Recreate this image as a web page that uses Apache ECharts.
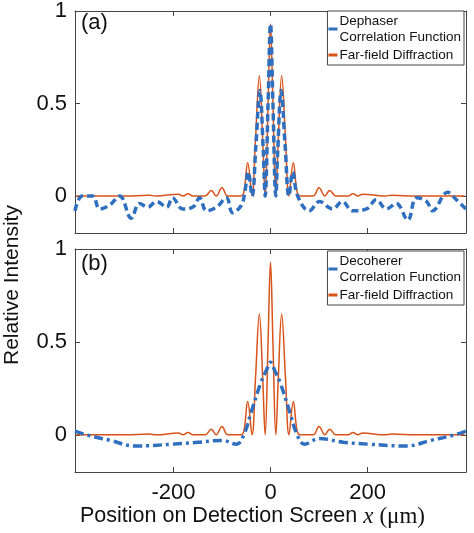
<!DOCTYPE html>
<html>
<head>
<meta charset="utf-8">
<script src="https://cdn.jsdelivr.net/npm/echarts@6/dist/echarts.min.js"></script>
<style>html,body{margin:0;padding:0;background:#fff}#chart{width:474px;height:533px}</style>
</head>
<body>
<div id="chart"></div>
<script>
// far-field diffraction (same in both panels)
const farField = [[-400,0],[-300,0],[-250,0.004],[-235,0],[-190,0.01],[-180,0],[-170,0.012],[-160,0],[-135,0],[-122,0.03],[-112,0],[-100,0.045],[-88,0],[-62,0],[-55,0.02],[-47,0.18],[-38,0],[-31,0.3],[-23,0.65],[-16,0.3],[-11,0],[-5,0.5],[0,0.93],[5,0.5],[11,0],[16,0.3],[23,0.65],[31,0.3],[38,0],[47,0.18],[55,0.02],[62,0],[88,0],[100,0.045],[112,0],[122,0.03],[135,0],[160,0],[170,0.012],[180,0],[190,0.01],[235,0],[250,0.004],[300,0],[400,0]];
// dephaser correlation function (panel a)
const dephaser = [[-403,-0.08],[-388,0],[-367,0],[-352,-0.07],[-332,-0.05],[-311,0],[-287,-0.12],[-270,-0.04],[-253,-0.06],[-235,-0.03],[-214,-0.06],[-202,-0.01],[-181,-0.07],[-160,-0.06],[-146,-0.01],[-132,-0.08],[-111,-0.06],[-91,-0.01],[-78,-0.09],[-60,-0.05],[-53,0.02],[-46,0.13],[-38,0],[-30,0.28],[-22,0.57],[-15,0.25],[-11,0],[-5,0.5],[0,0.93],[5,0.5],[11,0],[15,0.25],[22,0.57],[30,0.28],[38,0],[46,0.13],[56,0],[80,-0.08],[101,-0.03],[128,-0.07],[148,-0.03],[169,-0.08],[198,-0.07],[218,-0.02],[239,-0.07],[259,-0.04],[283,-0.13],[301,-0.01],[322,-0.03],[334,-0.08],[365,0.02],[383,-0.02],[403,-0.07]];
// decoherer correlation function (panel b)
const decoherer = [[-403,0.02],[-380,0],[-330,-0.03],[-280,-0.06],[-200,-0.05],[-150,-0.04],[-100,-0.03],[-70,-0.05],[-55,0],[-40,0.12],[-20,0.28],[-8,0.35],[0,0.39],[8,0.35],[20,0.28],[40,0.12],[55,0],[70,-0.05],[100,-0.02],[150,-0.04],[200,-0.05],[280,-0.06],[330,-0.03],[380,0],[403,0.02]];
const xTicks = [-200, 0, 200];
const yTicks = [0, 0.5, 1];

const chart = echarts.init(document.getElementById('chart'));
const blue = '#2f6fbf', orange = '#d95319', axisCol = '#444';
const font = 'Helvetica, Arial, "Liberation Sans", sans-serif';

function xAx(grid, pos, labels) {
  return {type: 'value', gridIndex: grid, position: pos, min: -403, max: 403,
    axisLine: {show: true, onZero: false, lineStyle: {color: axisCol}},
    axisTick: {inside: true, length: 5, customValues: xTicks, lineStyle: {color: axisCol}},
    axisLabel: {show: labels, customValues: xTicks, color: '#111', fontSize: 22, fontFamily: font, margin: 10},
    splitLine: {show: false}};
}
function yAx(grid, pos, labels) {
  return {type: 'value', gridIndex: grid, position: pos, min: -0.2, max: 1,
    axisLine: {show: true, onZero: false, lineStyle: {color: axisCol}},
    axisTick: {inside: true, length: 5, customValues: yTicks, lineStyle: {color: axisCol}},
    axisLabel: {show: labels, customValues: yTicks, color: '#111', fontSize: 22, fontFamily: font, margin: 8},
    splitLine: {show: false}};
}
function legend(grid, top, name) {
  return {top: top, right: 10, orient: 'vertical', backgroundColor: '#fff', borderColor: '#444', borderWidth: 1,
    padding: [2, 3, 2, 1], itemGap: 2, itemWidth: 9, itemHeight: 3, icon: 'rect',
    textStyle: {fontSize: 13.5, fontFamily: font, color: '#111', lineHeight: 16, padding: [0, 0, 0, -3]},
    data: [name, 'Far-field Diffraction ' + grid]
  };
}
const option = {
  animation: false,
  grid: [
    {left: 75, right: 8, top: 9, height: 224},
    {left: 75, right: 8, top: 249, height: 223}
  ],
  xAxis: [xAx(0, 'bottom', false), xAx(0, 'top', false), xAx(1, 'bottom', true), xAx(1, 'top', false)],
  yAxis: [yAx(0, 'left', true), yAx(0, 'right', false), yAx(1, 'left', true), yAx(1, 'right', false)],
  legend: [
    Object.assign(legend('a', 11, 'Dephaser\nCorrelation Function'), {formatter: n => n.replace(/ a$/, '')}),
    Object.assign(legend('b', 251, 'Decoherer\nCorrelation Function'), {formatter: n => n.replace(/ b$/, '')})
  ],
  series: [
    {name: 'Dephaser\nCorrelation Function', type: 'line', xAxisIndex: 0, yAxisIndex: 0, data: dephaser, smooth: 0.4, showSymbol: false,
      itemStyle: {color: blue}, lineStyle: {color: blue, width: 3.5, type: [7, 4]}, z: 2},
    {name: 'Far-field Diffraction a', type: 'line', xAxisIndex: 0, yAxisIndex: 0, data: farField, smooth: 0.4, showSymbol: false,
      itemStyle: {color: orange}, lineStyle: {color: orange, width: 1.5}, z: 1},
    {name: 'Decoherer\nCorrelation Function', type: 'line', xAxisIndex: 2, yAxisIndex: 2, data: decoherer, smooth: 0.4, showSymbol: false,
      itemStyle: {color: blue}, lineStyle: {color: blue, width: 3.5, type: [9, 4, 3, 4]}, z: 2},
    {name: 'Far-field Diffraction b', type: 'line', xAxisIndex: 2, yAxisIndex: 2, data: farField, smooth: 0.4, showSymbol: false,
      itemStyle: {color: orange}, lineStyle: {color: orange, width: 1.5}, z: 1}
  ],
  graphic: [
    {type: 'text', left: 81, top: 12, style: {text: '(a)', fontSize: 22, fontFamily: font, fill: '#111'}},
    {type: 'text', left: 81, top: 253, style: {text: '(b)', fontSize: 22, fontFamily: font, fill: '#111'}},
    {type: 'text', x: 2, y: 365, rotation: Math.PI / 2, style: {text: 'Relative Intensity', fontSize: 21, fontFamily: font, fill: '#111'}},
    {type: 'text', left: 80, top: 505, style: {
      text: 'Position on Detection Screen {i|x} {s|(μm)}', fontSize: 21.5, fontFamily: font, fill: '#111',
      rich: {i: {fontFamily: '"Liberation Serif", serif', fontStyle: 'italic', fontSize: 23}, s: {fontFamily: '"Liberation Serif", serif', fontSize: 23}}}}
  ]
};
chart.setOption(option);
</script>
</body>
</html>
